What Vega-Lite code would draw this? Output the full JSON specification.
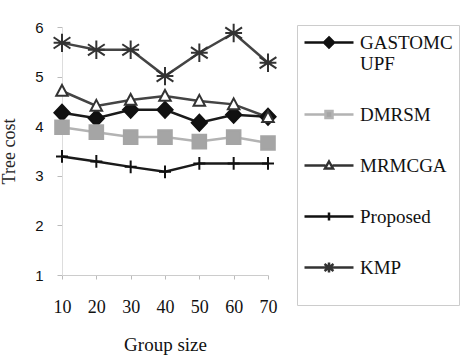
{
  "$schema": "https://vega.github.io/schema/vega-lite/v6.json",
  "width": 206,
  "height": 248,
  "autosize": {"type": "none"},
  "padding": {"left": 62, "top": 27, "right": 206, "bottom": 80},
  "background": "white",
  "config": {"view": {"stroke": null}},
  "data": {"values": [
    {"g": 10, "series": "GASTOMC UPF", "cost": 4.27},
    {"g": 20, "series": "GASTOMC UPF", "cost": 4.16},
    {"g": 30, "series": "GASTOMC UPF", "cost": 4.33},
    {"g": 40, "series": "GASTOMC UPF", "cost": 4.33},
    {"g": 50, "series": "GASTOMC UPF", "cost": 4.07},
    {"g": 60, "series": "GASTOMC UPF", "cost": 4.23},
    {"g": 70, "series": "GASTOMC UPF", "cost": 4.19},
    {"g": 10, "series": "DMRSM", "cost": 3.98},
    {"g": 20, "series": "DMRSM", "cost": 3.88},
    {"g": 30, "series": "DMRSM", "cost": 3.78},
    {"g": 40, "series": "DMRSM", "cost": 3.78},
    {"g": 50, "series": "DMRSM", "cost": 3.69},
    {"g": 60, "series": "DMRSM", "cost": 3.78},
    {"g": 70, "series": "DMRSM", "cost": 3.66},
    {"g": 10, "series": "MRMCGA", "cost": 4.71},
    {"g": 20, "series": "MRMCGA", "cost": 4.41},
    {"g": 30, "series": "MRMCGA", "cost": 4.53},
    {"g": 40, "series": "MRMCGA", "cost": 4.61},
    {"g": 50, "series": "MRMCGA", "cost": 4.51},
    {"g": 60, "series": "MRMCGA", "cost": 4.44},
    {"g": 70, "series": "MRMCGA", "cost": 4.18},
    {"g": 10, "series": "Proposed", "cost": 3.39},
    {"g": 20, "series": "Proposed", "cost": 3.29},
    {"g": 30, "series": "Proposed", "cost": 3.18},
    {"g": 40, "series": "Proposed", "cost": 3.08},
    {"g": 50, "series": "Proposed", "cost": 3.25},
    {"g": 60, "series": "Proposed", "cost": 3.25},
    {"g": 70, "series": "Proposed", "cost": 3.25},
    {"g": 10, "series": "KMP", "cost": 5.68},
    {"g": 20, "series": "KMP", "cost": 5.54},
    {"g": 30, "series": "KMP", "cost": 5.54},
    {"g": 40, "series": "KMP", "cost": 5.01},
    {"g": 50, "series": "KMP", "cost": 5.48},
    {"g": 60, "series": "KMP", "cost": 5.88},
    {"g": 70, "series": "KMP", "cost": 5.28}
  ]},
  "encoding": {
    "x": {
      "field": "g", "type": "quantitative",
      "scale": {"domain": [10, 70], "nice": false, "zero": false},
      "axis": {
        "values": [10, 20, 30, 40, 50, 60, 70],
        "title": "Group size",
        "grid": false,
        "labelFlush": false,
        "labelOverlap": false,
        "domainColor": "#cccccc",
        "tickColor": "#bbbbbb",
        "tickSize": 4,
        "labelFont": "Liberation Serif",
        "labelFontSize": 18,
        "labelColor": "#111111",
        "labelPadding": 19,
        "titleFont": "Liberation Serif",
        "titleFontSize": 19,
        "titleFontWeight": "normal",
        "titleColor": "#111111",
        "titlePadding": 19
      }
    },
    "y": {
      "field": "cost", "type": "quantitative",
      "scale": {"domain": [1, 6], "nice": false, "zero": false},
      "axis": {
        "values": [1, 2, 3, 4, 5, 6],
        "title": "Tree cost",
        "grid": false,
        "labelFlush": false,
        "domainColor": "#dddddd",
        "tickColor": "#bbbbbb",
        "tickSize": 5,
        "labelFont": "Liberation Sans",
        "labelFontSize": 15,
        "labelColor": "#111111",
        "labelPadding": 14,
        "titleFont": "Liberation Serif",
        "titleFontSize": 18,
        "titleFontWeight": "normal",
        "titleColor": "#222222",
        "titlePadding": 16
      }
    }
  },
  "layer": [
    {
      "mark": {"type": "line", "strokeWidth": 2.5},
      "encoding": {
        "stroke": {
          "field": "series", "type": "nominal",
          "scale": {
            "domain": ["GASTOMC UPF", "DMRSM", "MRMCGA", "Proposed", "KMP"],
            "range": ["#1a1a1a", "#b3b3b3", "#444444", "#1a1a1a", "#444444"]
          },
          "legend": null
        }
      }
    },
    {
      "mark": {"type": "point", "filled": true, "opacity": 1, "size": 256, "strokeWidth": 2},
      "encoding": {
        "shape": {
          "field": "series", "type": "nominal",
          "scale": {
            "domain": ["GASTOMC UPF", "DMRSM", "MRMCGA", "Proposed", "KMP"],
            "range": [
              "M0,-1L0.95,0L0,1L-0.95,0Z",
              "M-0.85,-0.85H0.85V0.85H-0.85Z",
              "M0,-0.75L0.72,0.6H-0.72Z",
              "M-0.75,0H0.75M0,-0.8V0.8",
              "M0,-1.15V1.15M-1.05,-0.7L1.05,0.7M1.05,-0.7L-1.05,0.7M-1.05,0H1.05"
            ]
          },
          "legend": null
        },
        "fill": {
          "field": "series", "type": "nominal",
          "scale": {
            "domain": ["GASTOMC UPF", "DMRSM", "MRMCGA", "Proposed", "KMP"],
            "range": ["#111111", "#a5a5a5", "#ffffff", "#111111", "#333333"]
          },
          "legend": null
        },
        "stroke": {
          "field": "series", "type": "nominal",
          "scale": {
            "domain": ["GASTOMC UPF", "DMRSM", "MRMCGA", "Proposed", "KMP"],
            "range": ["#111111", "#a5a5a5", "#333333", "#111111", "#333333"]
          },
          "legend": null
        }
      }
    },
    {
      "transform": [{"filter": "false"}],
      "mark": {"type": "point", "filled": true, "opacity": 1, "size": 400, "strokeWidth": 2.5},
      "encoding": {
        "shape": {
          "field": "series", "type": "nominal",
          "scale": {
            "domain": ["GASTOMC UPF", "DMRSM", "MRMCGA", "Proposed", "KMP"],
            "range": [
              "M-1,0H0.95M1.95,0H3.9M1.45,-0.5L1.95,0L1.45,0.5L0.95,0Z",
              "M-1,0H1.1M1.8,0H3.9M1.1,-0.35H1.8V0.35H1.1Z",
              "M-1,0H1.1M1.8,0H3.9M1.45,-0.4L1.85,0.3H1.05Z",
              "M-1,0H3.9M1.45,-0.4V0.4",
              "M-1,0H3.9M1.45,-0.5V0.5M1.0,-0.35L1.9,0.35M1.9,-0.35L1.0,0.35"
            ]
          },
          "legend": {
            "orient": "none",
            "legendX": 235,
            "legendY": -2,
            "title": null,
            "padding": 6,
            "strokeColor": "#cccccc",
            "fillColor": "#ffffff",
            "symbolSize": 400,
            "symbolStrokeWidth": 2.5,
            "labelFont": "Liberation Serif",
            "labelFontSize": 19,
            "labelColor": "#111111",
            "labelOffset": 34,
            "rowPadding": 29,
            "labelExpr": "datum.label == 'GASTOMC UPF' ? ['GASTOMC', 'UPF'] : datum.label == 'KMP' ? ['KMP', '\u00a0'] : datum.label"
          }
        },
        "fill": {
          "field": "series", "type": "nominal",
          "scale": {
            "domain": ["GASTOMC UPF", "DMRSM", "MRMCGA", "Proposed", "KMP"],
            "range": ["#111111", "#a5a5a5", "#ffffff", "#111111", "#333333"]
          }
        },
        "stroke": {
          "field": "series", "type": "nominal",
          "scale": {
            "domain": ["GASTOMC UPF", "DMRSM", "MRMCGA", "Proposed", "KMP"],
            "range": ["#111111", "#b3b3b3", "#333333", "#111111", "#333333"]
          }
        }
      }
    }
  ],
  "resolve": {"scale": {"shape": "independent", "fill": "independent", "stroke": "independent"}}
}
